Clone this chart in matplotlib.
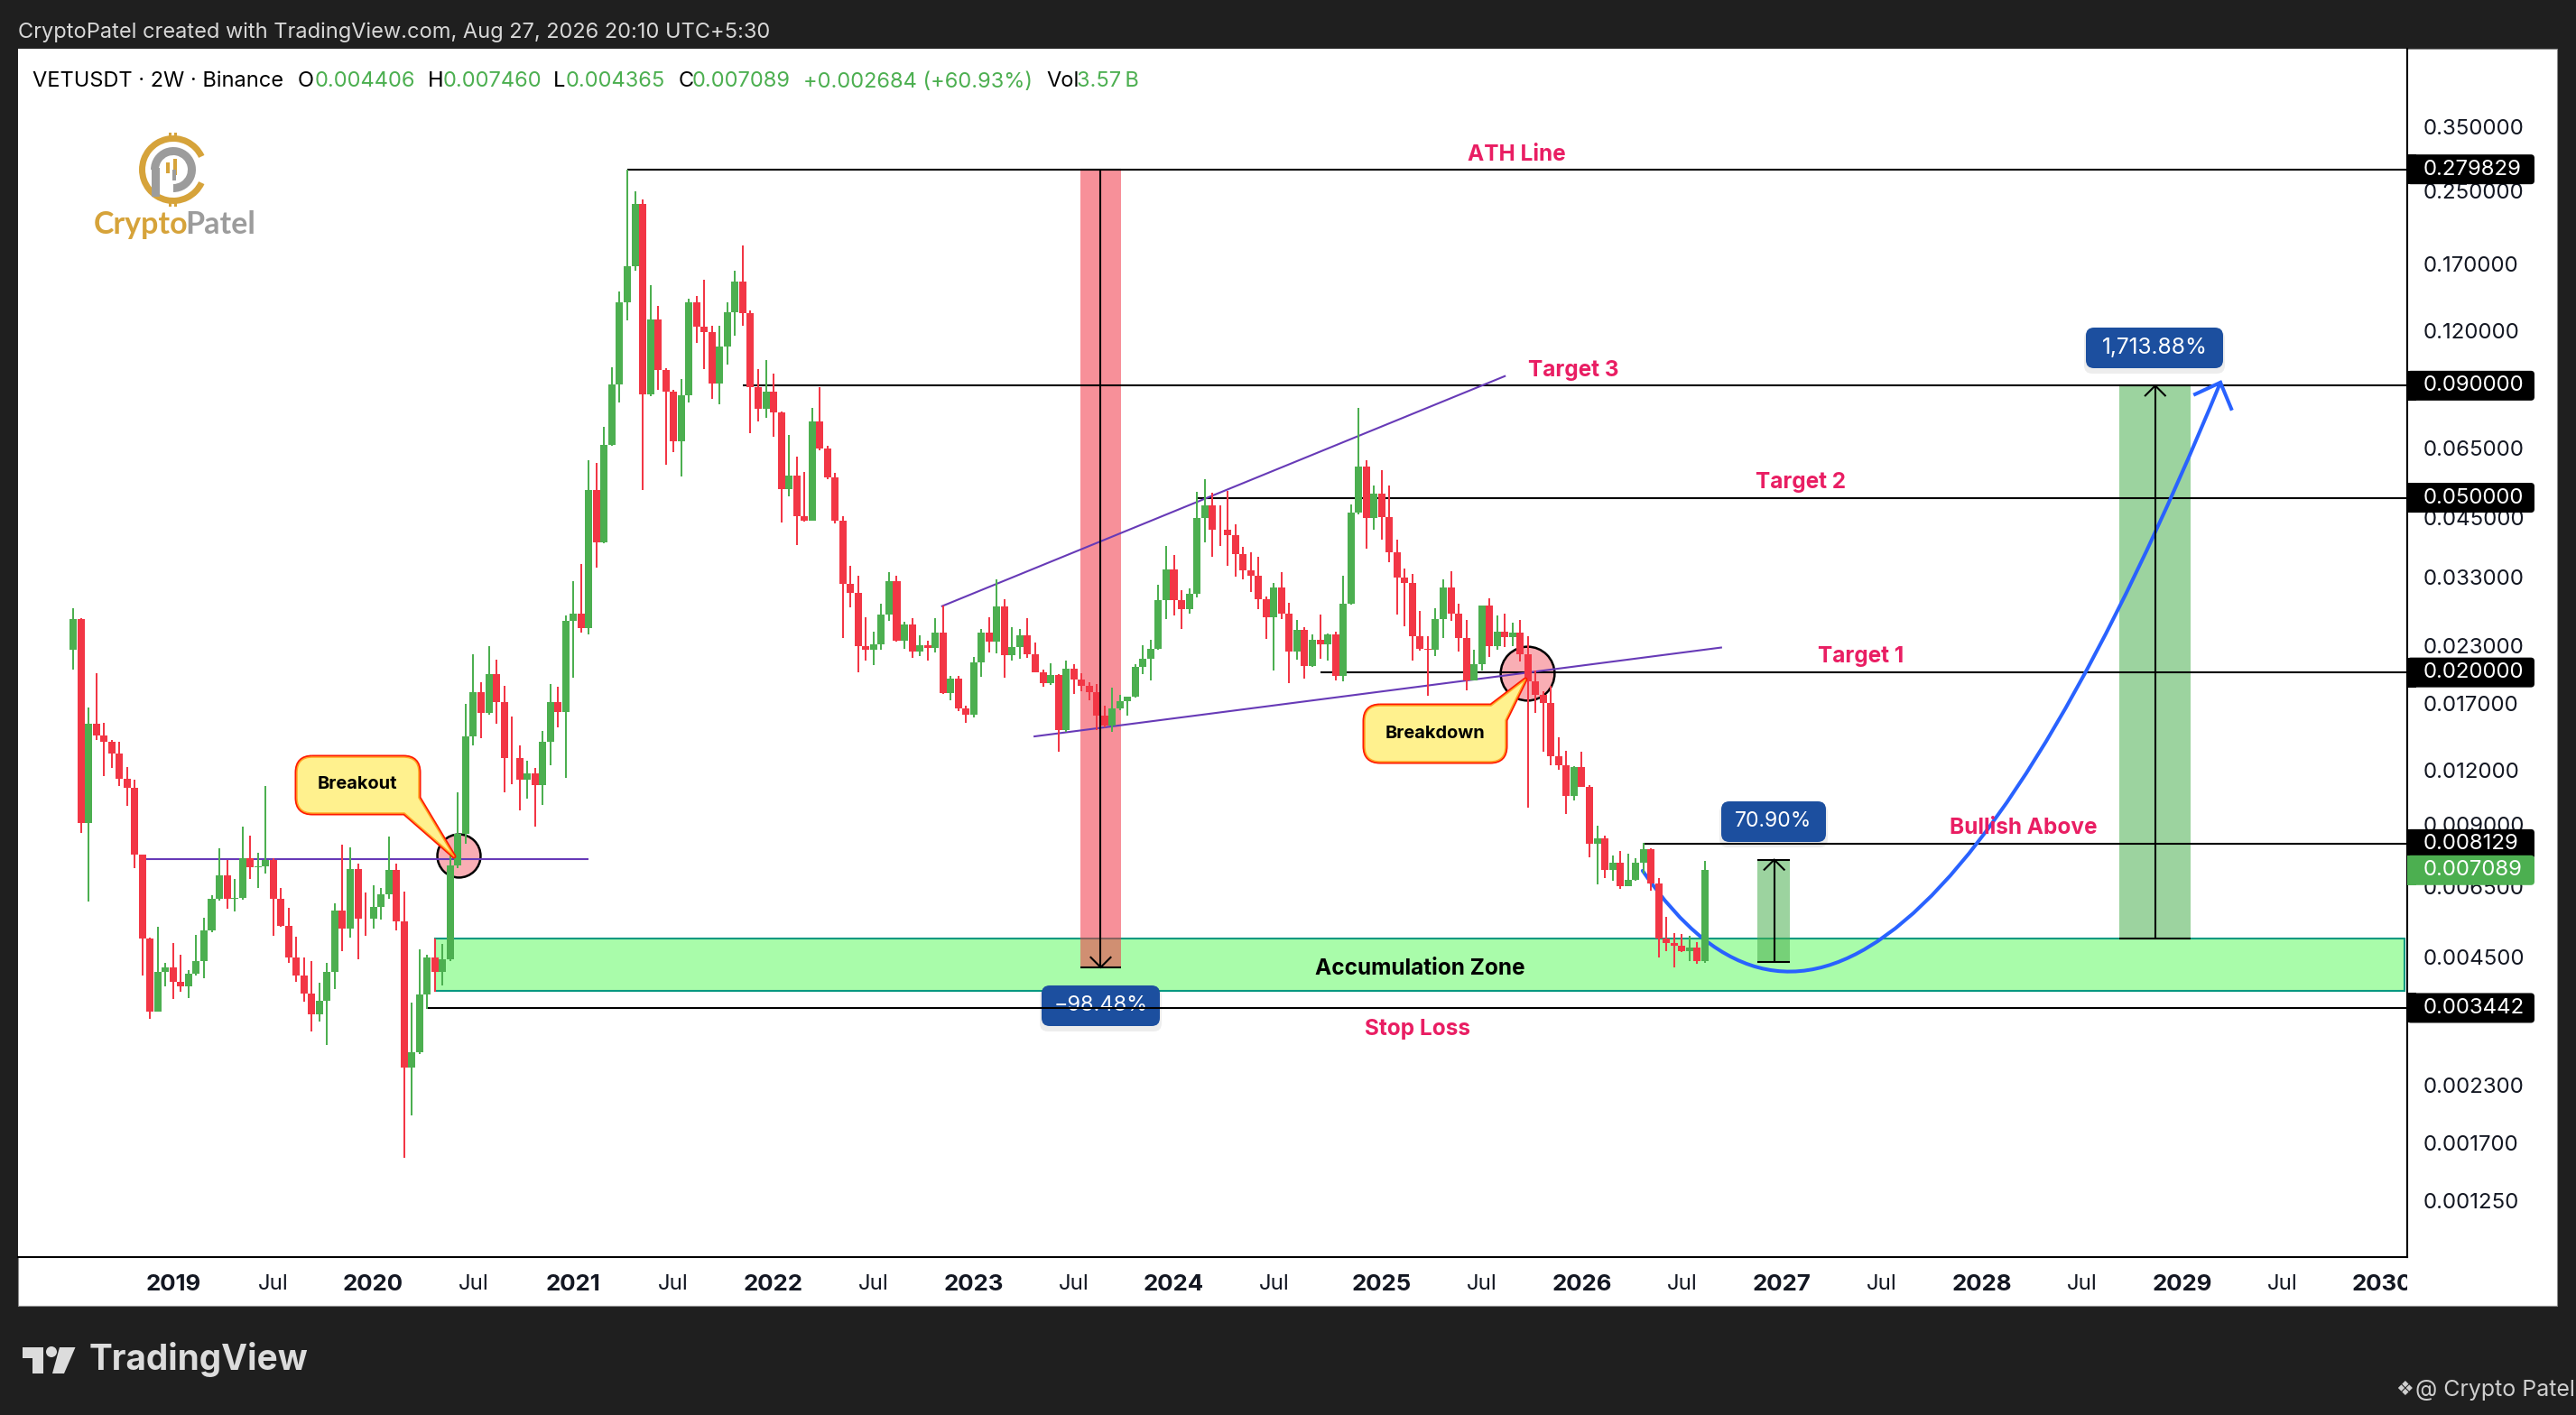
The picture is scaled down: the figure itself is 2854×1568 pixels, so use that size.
"""
plot.py
=======
VETUSDT 2W Binance chart with the CryptoPatel annotations, drawn as a
log-scale candlestick chart. Saves out.png.
"""

import numpy as np
import matplotlib
matplotlib.use("Agg")
import matplotlib.pyplot as plt
from matplotlib.patches import FancyBboxPatch, PathPatch, Rectangle, Wedge, Circle, Polygon
from matplotlib.path import Path
from matplotlib.transforms import Affine2D, Bbox, IdentityTransform, TransformedBbox

plt.rcParams["font.family"] = ["Inter", "DejaVu Sans"]

# ──────────────────────────────────────────────────────────────────────────────
# Chart values. Each open is the previous close.
# ──────────────────────────────────────────────────────────────────────────────

first_open = 0.02248

closes = [
    .02646, .00906, .01527, .01440, .01392, .01310, .01146, .01090, .00771, .00496,
    .00338, .00416, .00426, .00394, .00386, .00412, .00440, .00518, .00610, .00690,
    .00609, .00613, .00754, .00720, .00724, .00748, .00609, .00529, .00449, .00409,
    .00372, .00333, .00358, .00415, .00574, .00523, .00713, .00551, .00550, .00586,
    .00624, .00710, .00542, .00252, .00273, .00370, .00449, .00416, .00445, .00727,
    .00859, .01431, .01804, .01615, .01986, .01708, .01277, .01275, .01139, .01177,
    .01107, .01389, .01712, .01624, .02621, .02723, .02525, .0520, .0395, .0659,
    .0905, .1393, .1683, .2334, .0861, .1273, .0977, .0871, .0672, .0856,
    .1393, .1225, .1191, .0909, .1104, .1322, .1553, .1316, .0892, .0797,
    .0871, .0781, .0523, .0561, .0454, .0443, .0745, .0646, .0556, .0443,
    .03187, .03035, .02295, .02252, .02317, .02706, .03229, .02362, .02573, .02231,
    .02306, .02274, .02464, .01795, .01936, .01656, .01602, .02108, .02464, .02350,
    .02827, .02190, .02284, .02429, .02199, .02001, .01890, .01973, .01477, .02039,
    .01927, .01864, .01803, .01594, .01513, .01656, .01717, .01761, .02058, .02148,
    .02263, .02924, .03433, .02924, .02788, .03021, .04498, .04808, .04229, .04220,
    .04111, .03722, .03417, .03320, .02933, .02670, .03122, .02722, .02230, .02502,
    .02067, .02371, .02316, .02440, .01962, .02867, .04631, .05885, .04494, .05107,
    .04516, .03755, .03289, .03197, .02417, .02262, .02258, .02644, .03122, .02722,
    .02394, .01917, .02087, .02843, .02294, .02474, .02405, .02462, .02198, .01908,
    .01777, .01702, .01288, .01229, .01045, .01217, .01096, .00814, .00838, .00710,
    .00737, .00652, .00674, .00737, .00791, .00662, .00495, .00483, .00477, .00464,
    .00472, .00440, .007089,
]

highs = [
    .02801, .02657, .01664, .01990, .01533, .01404, .01387, .01216, .01137, .00771,
    .00497, .00527, .00436, .00483, .00456, .00420, .00504, .00553, .00623, .00794,
    .00749, .00676, .00890, .00849, .00776, .01102, .00756, .00645, .00582, .00500,
    .00449, .00441, .00392, .00436, .00595, .00810, .00799, .00734, .00630, .00656,
    .00645, .00846, .00734, .00634, .00354, .00468, .00455, .00496, .00481, .00779,
    .01066, .01694, .02196, .01899, .02297, .02141, .01865, .01587, .01363, .01258,
    .01211, .01470, .01883, .01855, .02697, .03230, .03532, .0608, .0600, .0725,
    .0991, .1474, .2798, .2495, .2390, .1524, .1367, .0986, .0880, .0931,
    .1419, .1439, .1567, .1231, .1231, .1393, .1644, .1877, .1335, .0981,
    .1029, .0958, .0785, .0695, .0620, .0572, .0801, .0892, .0656, .0569,
    .04540, .03498, .03320, .02672, .02476, .02868, .03384, .03320, .02608, .02659,
    .02429, .02362, .02659, .02842, .01964, .01964, .01680, .02169, .02511, .02672,
    .03259, .02937, .02536, .02511, .02659, .02340, .02030, .02098, .01985, .02128,
    .02088, .01992, .01900, .01882, .01680, .01846, .01777, .01761, .02088, .02306,
    .02372, .03168, .03883, .03703, .03078, .03108, .05156, .05522, .05125, .04808,
    .05179, .04350, .03865, .03755, .03665, .02976, .03197, .03384, .02880, .02632,
    .02533, .02440, .02707, .02451, .02474, .03320, .04828, .08010, .06086, .05330,
    .05777, .05330, .04013, .03448, .03353, .02759, .02417, .02800, .03257, .03398,
    .02867, .02632, .02251, .02843, .02952, .02696, .02722, .02595, .02632, .02417,
    .02018, .01811, .01863, .01422, .01329, .01223, .01318, .01107, .00895, .00850,
    .00765, .00783, .00772, .00754, .00817, .00794, .00680, .00555, .00509, .00507,
    .00502, .00486, .00746,
]

lows = [
    .02029, .00861, .00601, .01404, .01160, .01211, .01102, .00993, .00717, .00408,
    .00325, .00338, .00386, .00361, .00374, .00362, .00408, .00402, .00512, .00603,
    .00580, .00571, .00606, .00676, .00645, .00696, .00502, .00527, .00436, .00395,
    .00355, .00304, .00320, .00284, .00380, .00463, .00497, .00445, .00502, .00521,
    .00548, .00609, .00517, .00157, .00196, .00270, .00343, .00375, .00387, .00441,
    .00717, .00813, .01362, .01417, .01604, .01527, .01064, .01113, .00969, .01031,
    .00890, .00997, .01229, .01500, .01153, .01946, .02465, .02442, .0346, .0393,
    .0656, .0824, .1267, .1644, .0520, .0853, .0880, .0594, .0634, .0558,
    .0824, .1125, .0981, .0839, .0817, .1005, .1169, .1231, .0701, .0745,
    .0759, .0688, .0439, .0503, .0390, .0441, .0443, .0640, .0550, .0436,
    .02399, .02813, .02001, .02128, .02079, .02252, .02621, .02355, .02263, .02158,
    .02178, .02128, .02219, .01786, .01728, .01633, .01535, .01579, .01954, .02219,
    .02210, .01945, .02128, .02148, .02158, .02001, .01854, .01872, .01319, .01462,
    .01786, .01812, .01728, .01477, .01497, .01462, .01640, .01594, .01752, .01985,
    .01917, .02252, .02646, .02697, .02511, .02722, .02965, .03957, .03668, .03883,
    .03498, .03305, .03259, .03050, .02786, .02383, .02018, .02644, .01890, .02136,
    .01935, .02057, .02147, .02127, .01917, .01908, .02853, .04581, .03826, .04226,
    .04013, .03564, .02707, .02546, .02127, .02240, .01768, .02177, .02394, .02619,
    .02230, .01819, .01917, .02018, .02168, .02251, .02283, .02294, .02118, .00982,
    .01616, .01318, .01229, .01199, .00951, .01020, .01096, .00758, .00658, .00680,
    .00670, .00642, .00652, .00671, .00697, .00637, .00449, .00464, .00425, .00462,
    .00441, .00434, .004365,
]

price_ticks = [0.35, 0.25, 0.17, 0.12, 0.09, 0.065, 0.045, 0.033, 0.023, 0.017,
               0.012, 0.009, 0.0065, 0.0045, 0.0023, 0.0017, 0.00125]
time_tick_bars = [13, 26, 39, 52, 65, 78, 91, 104, 117, 130, 143, 156, 170, 183,
                  196, 209, 222, 235, 248, 261, 274, 287, 300]
time_tick_labels = ["2019", "Jul", "2020", "Jul", "2021", "Jul", "2022", "Jul",
                    "2023", "Jul", "2024", "Jul", "2025", "Jul", "2026", "Jul",
                    "2027", "Jul", "2028", "Jul", "2029", "Jul", "2030"]

# level, first bar of the level line, tag text
ath_price, target3_price, target2_price = 0.279829, 0.09, 0.05
target1_price, bullish_price, stop_price = 0.02, 0.008129, 0.003442
last_price = 0.007089
level_prices = [ath_price, target3_price, target2_price, target1_price, bullish_price, stop_price]
level_bars = [72, 87, 146, 162, 204, 46]

zone_bars = [47, 302.9]
zone_prices = [0.00376, 0.00496]

breakout_bars = [9.5, 66.9]
breakout_price = 0.00752
upper_trend_bars = [112.9, 186.0]
upper_trend_prices = [0.02832, 0.0946]
lower_trend_bars = [124.9, 214.1]
lower_trend_prices = [0.01430, 0.02279]

circle_bars = [50.07, 188.9]
circle_prices = [0.00767, 0.01992]

curve_bars = [203.9, 234.4, 278.97]
curve_prices = [0.00707, 0.00116, 0.0915]

# price-range tools: first bar, last bar, arrow bar, from price, to price
drop_range = (130.9, 136.1, 133.5, 0.279829, 0.00426)
small_range = (218.8, 223.0, 221.0, 0.00438, 0.00749)
big_range = (265.8, 275.1, 270.5, 0.00496, 0.09)

# ──────────────────────────────────────────────────────────────────────────────
# Colours and page geometry (pixels, origin top left)
# ──────────────────────────────────────────────────────────────────────────────

W, H = 2854, 1568
DARK = "#1f1f1f"
GREEN = "#4caf50"
RED = "#f23645"
PINK = "#e91e63"
BLUE_TAG = "#1c4f9f"
PURPLE = "#673ab7"
CURVE = "#2962ff"
GOLD = "#d6a33a"
GREY = "#9c9c9c"

PANE_L, PANE_T, PANE_R, PANE_B = 20, 54, 2667, 1393
PAGE_R, PAGE_B = 2833, 1447

PX = Affine2D().scale(1, -1).translate(0, H)
FIRST_BAR_X = 81
BAR_STEP = 8.528


def page_text(x, y, s, size, color="black", ha="left", weight="normal", zorder=20, **kw):
    return fig.text(x / W, 1 - y / H, s, fontsize=size * 0.72, color=color, ha=ha,
                    va="center", fontweight=weight, zorder=zorder, **kw)


def y_px(price):
    return H - ax.transData.transform((0, price))[1]


def x_px(bar):
    return ax.transData.transform((bar, 1))[0]


def round_box(x0, y0, x1, y1, r, color, zorder, **kw):
    return FancyBboxPatch((x0, y0), x1 - x0, y1 - y0,
                          boxstyle=f"round,pad=0,rounding_size={r}",
                          fc=color, ec="none", transform=PX, zorder=zorder, **kw)


def price_tag(price, text, color, zorder):
    y = y_px(price)
    fig.add_artist(round_box(2667, y - 16.5, 2808, y + 16.5, 4, color, zorder))
    fig.add_artist(Rectangle((2667, y - 16.5), 10, 33, fc=color, ec="none",
                             transform=PX, zorder=zorder))
    page_text(2685, y, text, 24, color="white", zorder=zorder + 0.1)


def range_tool(spec, color, label, box, size):
    b0, b1, bar, p_from, p_to = spec
    ax.fill_between([b0, b1], p_from, p_to, color=color, alpha=0.55, lw=0, zorder=1.5)
    ax.hlines([p_from, p_to], b0, b1, colors="black", lw=1.5, zorder=5)
    ax.vlines(bar, min(p_from, p_to), max(p_from, p_to), colors="black", lw=1.5, zorder=5)
    tip_x, tip_y = x_px(bar), y_px(p_to)
    back = 11 if p_to > p_from else -11
    ax.plot([tip_x - 11, tip_x, tip_x + 11], [tip_y + back, tip_y, tip_y + back],
            color="black", lw=1.5, transform=PX, zorder=5, solid_joinstyle="miter")
    x0, y0, x1, y1 = box
    ax.add_patch(round_box(x0 - 2, y0 + 3, x1 + 2, y1 + 6, 9, "#000000", 2.4, alpha=0.07))
    ax.add_patch(round_box(x0, y0, x1, y1, 9, BLUE_TAG, 2.5))
    ax.text((x0 + x1) / 2, (y0 + y1) / 2, label, transform=PX, color="white", fontsize=size * 0.72,
            ha="center", va="center", zorder=2.6, clip_on=False)


def callout(x0, y0, x1, y1, r, top_right=None, bottom_right=None):
    verts = [(x0 + r, y0)]
    codes = [Path.MOVETO]

    def line(p):
        verts.append(p)
        codes.append(Path.LINETO)

    def corner(c, p):
        verts.extend([c, p])
        codes.extend([Path.CURVE3, Path.CURVE3])

    if top_right:
        for p in top_right:
            line(p)
    else:
        line((x1 - r, y0))
        corner((x1, y0), (x1, y0 + r))
    if bottom_right:
        for p in bottom_right:
            line(p)
    else:
        line((x1, y1 - r))
        corner((x1, y1), (x1 - r, y1))
    line((x0 + r, y1))
    corner((x0, y1), (x0, y1 - r))
    line((x0, y0 + r))
    corner((x0, y0), (x0 + r, y0))
    path = Path(verts, codes)
    fig.add_artist(PathPatch(path, fc="none", ec="#ff1a00", lw=3.6, transform=PX, zorder=10,
                             joinstyle="round"))
    fig.add_artist(PathPatch(path, fc="#fff18e", ec="#ffa726", lw=1.1, transform=PX, zorder=10.1,
                             joinstyle="round"))


# ──────────────────────────────────────────────────────────────────────────────
# Page and pane
# ──────────────────────────────────────────────────────────────────────────────

fig = plt.figure(figsize=(W / 100, H / 100), dpi=100, facecolor=DARK)
fig.add_artist(Rectangle((PANE_L, PANE_T), PAGE_R - PANE_L, PAGE_B - PANE_T, fc="white",
                         ec="#8c8c8c", lw=0.8, transform=PX, zorder=-1))

ax = fig.add_axes([PANE_L / W, 1 - PANE_B / H, (PANE_R - PANE_L) / W, (PANE_B - PANE_T) / H])
ax.set_facecolor("white")
ax.set_yscale("log")
ax.set_xlim((PANE_L - FIRST_BAR_X) / BAR_STEP, (PANE_R - FIRST_BAR_X) / BAR_STEP)
ax.set_ylim(0.000932, 0.5268)
for side in ("left", "top"):
    ax.spines[side].set_visible(False)
for side in ("right", "bottom"):
    ax.spines[side].set_linewidth(1.5)
    ax.spines[side].set_color("black")

ax.yaxis.tick_right()
ax.set_yticks(price_ticks, [f"{p:.6f}" for p in price_ticks])
ax.minorticks_off()
ax.tick_params(axis="y", length=0, pad=13, labelsize=17.3, labelcolor="#131722")
ax.set_xticks(time_tick_bars, time_tick_labels)
ax.tick_params(axis="x", length=0, pad=13.5, labelsize=17.3, labelcolor="#131722")
pane_clip = TransformedBbox(Bbox([[PANE_L, 0], [PANE_R, H]]), IdentityTransform())
for label in ax.get_xticklabels():
    if label.get_text() != "Jul":
        label.set_fontweight("bold")
        label.set_fontsize(18.6)
    label.set_clip_box(pane_clip)
    label.set_clip_on(True)

# ──────────────────────────────────────────────────────────────────────────────
# Zone, levels, trend lines, curve
# ──────────────────────────────────────────────────────────────────────────────

ax.add_patch(Rectangle((zone_bars[0], zone_prices[0]), zone_bars[1] - zone_bars[0],
                       zone_prices[1] - zone_prices[0], fc="#a9fcaa", ec="#089981", lw=1.5, zorder=1))
ax.hlines(level_prices, level_bars, ax.get_xlim()[1], colors="black", lw=1.5, zorder=3)
ax.hlines(breakout_price, *breakout_bars, colors=PURPLE, lw=1.5, zorder=3)
ax.plot(upper_trend_bars, upper_trend_prices, color=PURPLE, lw=1.5, zorder=3)
ax.plot(lower_trend_bars, lower_trend_prices, color=PURPLE, lw=1.5, zorder=3)
ax.plot(circle_bars[:1], circle_prices[:1], "o", ms=34.5, mfc=(0.95, 0.21, 0.27, 0.4), mec="black",
        mew=1.8, zorder=2)
ax.plot(circle_bars[1:], circle_prices[1:], "o", ms=43, mfc=(0.95, 0.21, 0.27, 0.4), mec="black",
        mew=1.8, zorder=2)

curve_pts = [(x_px(b), y_px(p)) for b, p in zip(curve_bars, curve_prices)]
ax.add_patch(PathPatch(Path(curve_pts, [Path.MOVETO, Path.CURVE3, Path.CURVE3]), fc="none", ec=CURVE,
                       lw=2.9, transform=PX, zorder=3.5, capstyle="round"))
tip_x, tip_y = curve_pts[-1]
ax.plot([tip_x - 28, tip_x, tip_x + 12], [tip_y + 13, tip_y, tip_y + 29], color=CURVE, lw=2.9,
        transform=PX, zorder=3.5, solid_joinstyle="miter")

range_tool(drop_range, RED, "\u221298.48%", (1154, 1092, 1285, 1137), 23.5)
range_tool(small_range, GREEN, "70.90%", (1907, 888, 2023, 933), 23)
range_tool(big_range, GREEN, "1,713.88%", (2311, 363, 2463, 408), 24.5)

# ──────────────────────────────────────────────────────────────────────────────
# Candles
# ──────────────────────────────────────────────────────────────────────────────

bars = np.arange(len(closes))
close_arr = np.array(closes)
open_arr = np.concatenate([[first_open], close_arr[:-1]])
colors = [GREEN if c >= o else RED for o, c in zip(open_arr, close_arr)]
ax.vlines(bars, lows, highs, colors=colors, lw=1.44, zorder=4)
ax.bar(bars, np.abs(close_arr - open_arr), bottom=np.minimum(open_arr, close_arr), width=0.94,
       color=colors, lw=0, zorder=4.1)

# ──────────────────────────────────────────────────────────────────────────────
# Callouts, level names, price tags
# ──────────────────────────────────────────────────────────────────────────────

callout(329, 839, 464, 901, 17, bottom_right=[(464, 884), (503, 949), (448, 901)])
page_text(396, 869, "Breakout", 20, weight="bold", ha="center", zorder=11)
callout(1512, 782, 1668, 844, 17, top_right=[(1652, 782), (1690, 753), (1668, 798)])
page_text(1590, 813, "Breakdown", 20, weight="bold", ha="center", zorder=11)

for x, y, name in [(1680, 171, "ATH Line"), (1743, 411, "Target 3"), (1995, 534, "Target 2"),
                   (2062, 727, "Target 1"), (2242, 918, "Bullish Above"), (1570, 1141, "Stop Loss")]:
    page_text(x, y, name, 24.4, color=PINK, ha="center", weight="bold")
page_text(1573, 1073, "Accumulation Zone", 24.4, ha="center", weight="bold")

for price in level_prices:
    price_tag(price, f"{price:.6f}", "black", 12)
price_tag(last_price, f"{last_price:.6f}", GREEN, 13)

# ──────────────────────────────────────────────────────────────────────────────
# Header, legend line, logos
# ──────────────────────────────────────────────────────────────────────────────

page_text(20, 36, "CryptoPatel created with TradingView.com, Aug 27, 2026 20:10 UTC+5:30", 23.6,
          color="#d8d8d8")

for x, s, c in [(36, "VETUSDT \u00b7 2W \u00b7 Binance", "black"), (330, "O", "black"),
                (349, "0.004406", GREEN), (474, "H", "black"), (491, "0.007460", GREEN),
                (613, "L", "black"), (627, "0.004365", GREEN), (752, "C", "black"),
                (767, "0.007089", GREEN), (890, "+0.002684 (+60.93%)", GREEN),
                (1159, "Vol", "black"), (1193, "3.57\u2009B", GREEN)]:
    page_text(x, 90.5, s, 23.6, color=c)

# CryptoPatel logo
fig.add_artist(Wedge((192, 188), 38, 25, 335, width=7, fc=GOLD, ec="none", transform=PX, zorder=9))
fig.add_artist(Wedge((192, 188), 25, 180, 450, width=9, fc=GREY, ec="none", transform=PX, zorder=9))
for rect, c in [((168, 186, 9, 32), GREY), ((187, 147, 3, 6), GOLD), ((193, 147, 3, 6), GOLD),
                ((187, 223, 3, 6), GOLD), ((193, 223, 3, 6), GOLD), ((184, 180, 4, 12), GOLD),
                ((192, 176, 4, 18), GOLD), ((191, 188, 4, 12), GREY)]:
    fig.add_artist(Rectangle(rect[:2], rect[2], rect[3], fc=c, ec="none", transform=PX, zorder=9))
page_text(104, 249, "Crypto", 34, color=GOLD, weight="bold", family="Lato")
page_text(205, 249, "Patel", 34, color=GREY, weight="bold", family="Lato")

# TradingView logo
LOGO = "#dcdcdc"
fig.add_artist(Polygon([(24.5, 1493), (48, 1493), (48, 1522), (36, 1522), (36, 1505), (24.5, 1505)],
                       fc=LOGO, ec="none", transform=PX, zorder=9))
fig.add_artist(Circle((57, 1498), 6, fc=LOGO, ec="none", transform=PX, zorder=9))
fig.add_artist(Polygon([(66, 1493), (83.5, 1493), (71, 1522), (58, 1522)], fc=LOGO, ec="none",
                       transform=PX, zorder=9))
page_text(99, 1507, "TradingView", 38.8, color=LOGO, weight="bold")

page_text(2654, 1540, "\u2756", 22, color="#cfcfcf", family="DejaVu Sans")
page_text(2676, 1540, "@ Crypto Patel", 25, color="#cfcfcf")

fig.savefig("out.png", dpi=100, facecolor=DARK)
